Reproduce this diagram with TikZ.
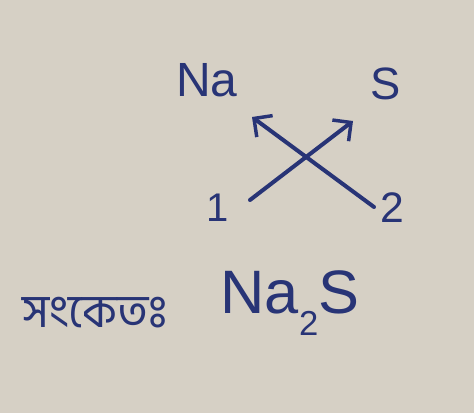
\documentclass[tikz,border=0pt]{standalone}
\usepackage{fontspec}
\setmainfont{Liberation Sans}
\newfontfamily\bengfont[Script=Bengali]{Hind Siliguri}
\usetikzlibrary{arrows.meta}
\definecolor{paper}{RGB}{214,208,197}
\definecolor{ink}{RGB}{40,52,118}

\begin{document}
\begin{tikzpicture}[x=0.75pt,y=-0.75pt]
        \fill[paper] (0,0) rectangle (474,413);
        \useasboundingbox (0,0) rectangle (474,413);
        \tikzset{lbl/.style={text=ink, inner sep=0pt}}

        \node[lbl, font=\fontsize{36}{36}\selectfont] (na) at (207,80) {Na};
        \node[lbl, font=\fontsize{34}{34}\selectfont] (s) at (386,84) {S};
        \node[lbl, font=\fontsize{30}{30}\selectfont] (one) at (218,208) {1};
        \node[lbl, font=\fontsize{32}{32}\selectfont] (two) at (392,208) {2};

        \coordinate (t1) at (250,200);
        \coordinate (h1) at (353,121);
        \coordinate (t2) at (374,207);
        \coordinate (h2) at (252,117);
        \draw[ink, line width=3pt, line cap=round, -{Straight Barb[length=10pt,width=20pt,line width=2.6pt]}] (t1) -- (h1);
        \draw[ink, line width=3pt, line cap=round, -{Straight Barb[length=10pt,width=20pt,line width=2.6pt]}] (t2) -- (h2);

        \node[lbl, font=\bengfont\fontsize{35}{35}\selectfont] (sanket) at (95,313) {সংকেতঃ};
        \node[lbl, font=\fontsize{46}{46}\selectfont] (formula) at (290,303) {Na\raisebox{-0.35em}{\fontsize{26}{26}\selectfont 2}S};
    \end{tikzpicture}
\end{document}
